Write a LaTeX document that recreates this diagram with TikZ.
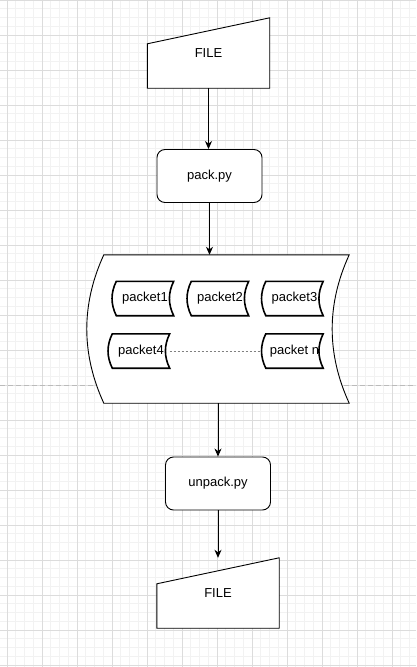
\documentclass[tikz,border=0pt]{standalone}
\usepackage{fontspec}
\setmainfont{Liberation Sans}
\usetikzlibrary{arrows.meta, calc, backgrounds}
\definecolor{gridminor}{HTML}{F2F2F2}
\definecolor{gridmajor}{HTML}{DCDCDC}
\definecolor{pagebreak}{HTML}{BBBBBB}
\tikzset{
    every node/.append style={font=\fontsize{13}{15}\selectfont}, % draw.io size text
    box/.style={draw, fill=white, line width=0.9pt, rounded corners=8pt,
        minimum width=105pt, minimum height=53pt},
    manual/.style={minimum width=122pt, minimum height=70pt, inner sep=0pt},
    store/.style={minimum width=245pt, minimum height=148pt, inner sep=0pt},
    packet/.style={minimum width=57pt, minimum height=34pt, inner sep=0pt},
    flow/.style={-{Stealth[length=8pt, width=7pt, inset=2.5pt]}, line width=0.9pt},
    dotline/.style={gray, line width=0.9pt, dash pattern=on 2pt off 2pt},
}
% stored data outline: node, bulge of the arcs, line width
\newcommand{\storedata}[3]{%
    \draw[fill=white, line width=#3]
        (#1.north west) .. controls ($(#1.north west)!1/3!(#1.south west)+(-#2,0)$)
        and ($(#1.north west)!2/3!(#1.south west)+(-#2,0)$) .. (#1.south west)
        -- (#1.south east)
        .. controls ($(#1.south east)!1/3!(#1.north east)+(-#2,0)$)
        and ($(#1.south east)!2/3!(#1.north east)+(-#2,0)$) .. (#1.north east)
        -- cycle;
}
% manual input outline, slanted top
\newcommand{\manualin}[1]{%
    \draw[fill=white, line width=0.9pt]
        (#1.south west) -- (#1.south east) -- (#1.north east)
        -- ([yshift=-26pt]#1.north west) -- cycle;
}

\begin{document}
\begin{tikzpicture}[x=1pt, y=-1pt]
    \useasboundingbox (0,0) rectangle (416,667);

    \node[manual] (fileIn) at (208.5,53) {FILE};
    \node[box] (pack) at (209.5,176) {pack.py};

    \node[store] (store) at (226.5,329) {};
    \node[packet] (p1) at (145,298.5) {packet1};
    \node[packet] (p2) at (220,298.5) {packet2};
    \node[packet] (p3) at (294.5,298.5) {packet3};
    \node[packet] (p4) at (141,351) {packet4};
    \node[packet] (pn) at (294.5,351) {packet n};

    \node[box] (unpack) at (218,483.5) {unpack.py};
    \node[manual] (fileOut) at (218,593) {FILE};

    \draw[flow] (fileIn.south) -- (fileIn.south |- pack.north);
    \draw[flow] (pack.south) -- (pack.south |- store.north);
    \draw[flow] (unpack.north |- store.south) -- (unpack.north);
    \draw[flow] (unpack.south) -- (fileOut.north);
    \draw[dotline] (p4.east) -- ([xshift=-4.3pt]pn.west);

    \begin{scope}[on background layer]
        \fill[white] (0,0) rectangle (416,667);
        \foreach \x in {7,15.75,...,416}
            \draw[gridminor, line width=0.8pt] (\x,0) -- (\x,667);
        \foreach \y in {0,8.75,...,667}
            \draw[gridminor, line width=0.8pt] (0,\y) -- (416,\y);
        \foreach \x in {7,42,...,416}
            \draw[gridmajor, line width=0.8pt] (\x,0) -- (\x,667);
        \foreach \y in {0,35,...,667}
            \draw[gridmajor, line width=0.8pt] (0,\y) -- (416,\y);
        \draw[pagebreak, line width=0.9pt, dash pattern=on 5pt off 3pt] (0,385) -- (416,385);

        \storedata{store}{22.7}{0.9pt}
        \foreach \p in {p1,p2,p3,p4,pn}{
            \storedata{\p}{5.7}{1.6pt}
        }
        \manualin{fileIn}
        \manualin{fileOut}
    \end{scope}
\end{tikzpicture}
\end{document}
